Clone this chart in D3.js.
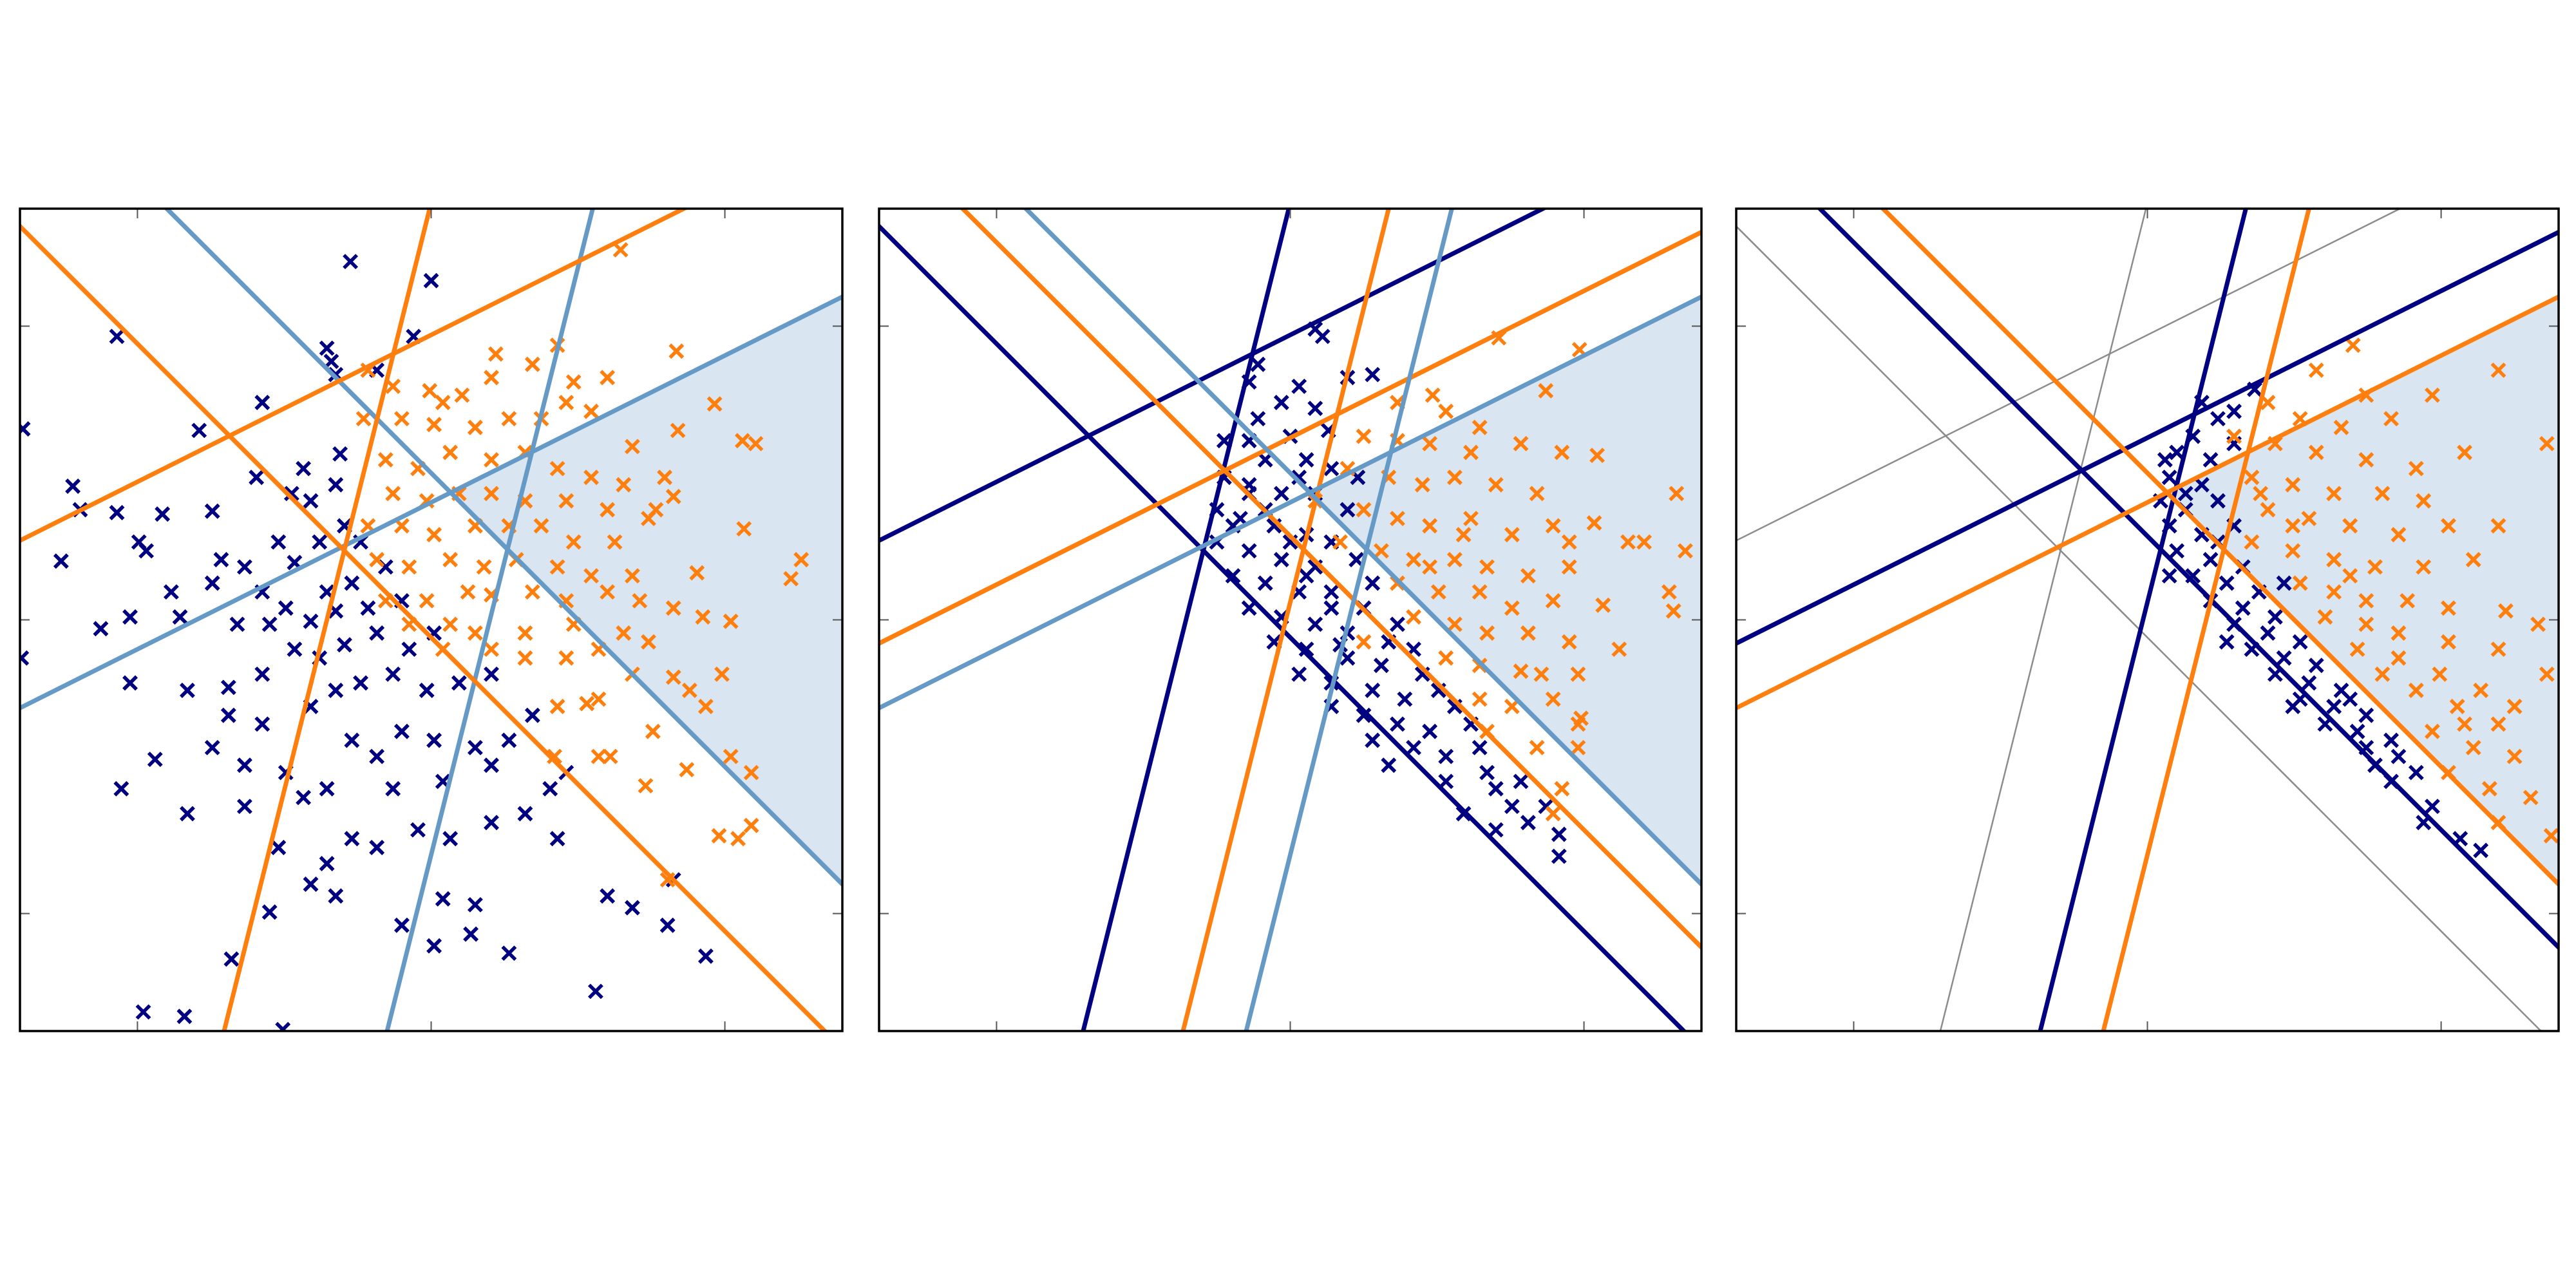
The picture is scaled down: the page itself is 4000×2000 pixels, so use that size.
<!DOCTYPE html>
<html><head><meta charset="utf-8">
<script src="https://cdn.jsdelivr.net/npm/d3@7"></script>
<style>body{margin:0;background:#fff}</style></head>
<body><svg id="c" width="4000" height="2000"></svg>
<script>
const domain=[-2.8,2.8], ticks=[-2,0,2];
const NAVY="#000080", ORANGE="#ff7f0e", BLUE="#659ac6", GRAY="#8c8c8c", SHADE="#d9e6f2";
// lines as [a,b,c] meaning a*x + b*y = c
const linesA=[[1,1,1.0],[-0.5,1,0.8],[1,-0.25,0.4]];
const linesB=[[1,1,-0.12],[-0.5,1,1.94],[1,-0.25,-0.71]];
const linesC=[[1,1,0.57],[-0.5,1,1.24],[1,-0.25,-0.03]];
const p1Navy=[[-0.55,2.44],[0,2.31],[-2.14,1.93],[-0.71,1.85],[-0.68,1.76],[-0.65,1.67],[-0.12,1.93],[-0.37,1.70],[-1.15,1.48],[-1.58,1.29],[-2.78,1.30],[-0.62,1.13],[-1.19,0.97],[-0.87,1.03],[-2.44,0.91],[-2.39,0.75],[-2.14,0.73],[-1.83,0.72],[-1.49,0.74],[-0.95,0.86],[-0.82,0.81],[-0.65,0.92],[-2.52,0.40],[-1.99,0.53],[-1.94,0.47],[-1.43,0.41],[-1.27,0.36],[-1.04,0.53],[-0.93,0.39],[-0.76,0.53],[-0.59,0.64],[-0.48,0.53],[-1.77,0.19],[-1.49,0.25],[-1.15,0.19],[-0.99,0.08],[-0.71,0.19],[-0.54,0.25],[-0.31,0.36],[-2.25,-0.06],[-2.05,0.02],[-1.71,0.02],[-1.32,-0.03],[-1.10,-0.03],[-0.82,-0.01],[-0.65,0.06],[-0.43,0.08],[-0.20,0.13],[-2.79,-0.26],[-2.05,-0.43],[-1.66,-0.48],[-1.38,-0.46],[-1.15,-0.37],[-0.93,-0.20],[-0.76,-0.26],[-0.59,-0.17],[-0.37,-0.09],[-0.15,-0.20],[0.02,-0.09],[-1.38,-0.65],[-1.15,-0.71],[-0.82,-0.59],[-0.65,-0.48],[-0.48,-0.43],[-0.26,-0.37],[-0.03,-0.48],[0.19,-0.43],[0.41,-0.37],[-1.88,-0.95],[-1.49,-0.87],[-1.27,-0.99],[-0.99,-1.04],[-0.54,-0.82],[-0.37,-0.93],[-0.20,-0.76],[0.02,-0.82],[0.30,-0.87],[0.53,-0.82],[0.69,-0.65],[-2.11,-1.15],[-1.66,-1.32],[-1.27,-1.27],[-0.87,-1.21],[-0.71,-1.15],[-0.26,-1.15],[0.08,-1.10],[0.41,-0.99],[0.81,-1.15],[0.92,-1.04],[-1.04,-1.55],[-0.71,-1.66],[-0.54,-1.49],[-0.37,-1.55],[-0.09,-1.43],[0.13,-1.49],[0.41,-1.38],[0.64,-1.32],[0.86,-1.49],[-0.82,-1.80],[-0.65,-1.88],[-1.10,-1.99],[-0.20,-2.08],[0.08,-1.90],[0.30,-1.94],[1.20,-1.88],[1.37,-1.96],[1.61,-2.08],[0.02,-2.22],[0.27,-2.14],[0.53,-2.27],[1.87,-2.29],[-1.36,-2.31],[-1.96,-2.67],[-1.68,-2.70],[-1.01,-2.79],[1.12,-2.53],[1.65,-1.77]];
const p1Orange=[[1.29,2.52],[1.67,1.83],[0.44,1.81],[0.86,1.87],[0.69,1.74],[-0.01,1.56],[0.08,1.48],[0.21,1.53],[0.41,1.65],[0.97,1.62],[1.20,1.65],[-0.26,1.59],[-0.43,1.70],[1.93,1.47],[2.12,1.22],[2.21,1.20],[1.68,1.29],[-0.46,1.37],[-0.20,1.37],[0.02,1.33],[0.30,1.31],[0.53,1.37],[0.75,1.37],[0.92,1.48],[1.09,1.42],[1.37,1.18],[-0.31,1.09],[-0.09,1.03],[0.13,1.14],[0.41,1.09],[0.64,1.14],[0.86,1.03],[1.09,0.97],[1.31,0.92],[1.59,0.97],[1.65,0.84],[-0.26,0.86],[-0.03,0.81],[0.19,0.86],[0.41,0.86],[0.64,0.81],[0.92,0.81],[1.20,0.75],[1.48,0.69],[2.13,0.62],[-0.43,0.64],[-0.20,0.64],[0.02,0.58],[0.30,0.64],[0.53,0.64],[0.75,0.64],[0.97,0.53],[1.25,0.53],[1.53,0.75],[2.52,0.41],[2.45,0.28],[-0.37,0.41],[-0.15,0.36],[0.13,0.41],[0.36,0.36],[0.58,0.41],[0.86,0.36],[1.09,0.30],[1.37,0.30],[1.81,0.32],[-0.31,0.13],[-0.03,0.13],[0.25,0.19],[0.41,0.17],[0.69,0.19],[0.92,0.13],[1.20,0.19],[1.42,0.13],[1.65,0.08],[2.04,-0.01],[1.85,0.02],[-0.15,-0.03],[0.13,-0.03],[0.30,-0.09],[0.64,-0.09],[0.97,-0.03],[1.31,-0.09],[1.48,-0.15],[0.08,-0.20],[0.41,-0.20],[0.64,-0.26],[0.92,-0.26],[1.14,-0.20],[1.37,-0.37],[1.65,-0.39],[1.76,-0.48],[1.98,-0.37],[1.87,-0.59],[1.06,-0.57],[1.14,-0.54],[0.86,-0.59],[2.04,-0.93],[2.18,-1.04],[1.74,-1.02],[1.51,-0.76],[0.84,-0.93],[1.14,-0.93],[1.22,-0.93],[1.46,-1.13],[1.96,-1.47],[2.09,-1.49],[2.18,-1.40],[1.61,-1.77]];
const p2Navy=[[0.17,1.98],[0.22,1.93],[-0.22,1.74],[-0.28,1.62],[0.06,1.59],[-0.06,1.48],[0.17,1.44],[-0.22,1.37],[-0.28,1.22],[0,1.25],[-0.45,1.22],[0.39,1.65],[0.56,1.67],[-0.17,1.09],[0.11,1.09],[0.28,1.03],[-0.45,0.97],[-0.28,0.92],[-0.06,0.86],[0.17,0.86],[-0.50,0.75],[-0.34,0.69],[-0.11,0.64],[0.11,0.58],[0.39,0.75],[-0.50,0.53],[-0.28,0.47],[-0.06,0.41],[0.17,0.36],[0.45,0.41],[-0.39,0.30],[-0.17,0.25],[0.06,0.19],[0.28,0.19],[0.56,0.25],[-0.28,0.08],[-0.06,0.02],[0.17,-0.03],[0.39,-0.09],[0.73,-0.03],[-0.11,-0.15],[0.11,-0.20],[0.39,-0.26],[0.62,-0.31],[0.84,-0.20],[0.06,-0.37],[0.28,-0.43],[0.56,-0.48],[0.78,-0.54],[1.01,-0.48],[0.28,-0.59],[0.50,-0.65],[0.73,-0.71],[0.95,-0.76],[1.23,-0.71],[0.56,-0.82],[0.84,-0.87],[1.06,-0.93],[0.67,-0.99],[1.06,-1.10],[1.34,-1.04],[1.40,-1.15],[1.51,-1.27],[1.18,-1.32],[1.40,-1.43],[1.62,-1.38],[1.83,-1.46],[1.83,-1.61],[0.34,-0.17],[-0.39,0.64],[-0.17,0.75],[0,0.53],[0.28,0.53],[0.50,0.08],[0.67,-0.15],[0.90,-0.37],[1.12,-0.59],[1.29,-0.87],[1.57,-1.10],[1.74,-1.27],[0.11,0.30],[0.28,0.08],[-0.28,0.86],[0.06,0.97],[0.26,1.29],[0.46,0.97]];
const p2Orange=[[1.42,1.92],[1.97,1.84],[1.74,1.56],[0.97,1.53],[0.73,1.48],[1.06,1.42],[1.29,1.31],[0.50,1.25],[0.73,1.22],[0.95,1.20],[1.23,1.14],[1.57,1.20],[2.09,1.12],[1.85,1.14],[0.39,1.03],[0.67,0.97],[0.90,0.92],[1.12,0.97],[1.40,0.92],[1.68,0.86],[2.63,0.86],[0.17,0.81],[0.50,0.75],[0.73,0.69],[0.95,0.64],[1.23,0.69],[1.51,0.58],[1.79,0.64],[2.07,0.66],[2.30,0.53],[0.34,0.53],[0.62,0.47],[0.84,0.41],[1.12,0.41],[1.34,0.36],[1.62,0.30],[1.90,0.36],[0.73,0.25],[1.01,0.19],[1.29,0.19],[1.51,0.08],[1.79,0.13],[2.13,0.10],[2.58,0.19],[2.61,0.06],[0.84,0.02],[1.12,-0.03],[1.34,-0.09],[1.62,-0.09],[1.90,-0.15],[2.24,-0.20],[0.50,-0.15],[1.06,-0.26],[1.29,-0.31],[1.57,-0.35],[1.96,-0.37],[1.29,-0.54],[1.51,-0.59],[1.79,-0.54],[1.96,-0.71],[1.34,-0.76],[1.68,-0.87],[1.96,-0.87],[1.85,-1.15],[1.79,-1.32],[1.98,-0.67],[0.95,0.36],[1.18,0.58],[2.41,0.53],[2.69,0.47],[1.90,0.53],[1.71,-0.37]];
const p3Navy=[[0.37,1.48],[0.48,1.37],[0.31,1.25],[0.20,1.14],[0.43,1.09],[0.59,1.20],[0.15,0.97],[0.37,0.92],[0.09,0.81],[0.26,0.75],[0.48,0.81],[0.15,0.64],[0.37,0.58],[0.59,0.64],[0.20,0.47],[0.43,0.41],[0.65,0.36],[0.31,0.30],[0.54,0.25],[0.76,0.19],[0.43,0.13],[0.65,0.08],[0.87,0.02],[0.59,-0.03],[0.82,-0.09],[1.04,-0.15],[0.71,-0.20],[0.93,-0.26],[1.15,-0.31],[0.87,-0.37],[1.10,-0.43],[1.32,-0.48],[1.04,-0.54],[1.27,-0.59],[1.49,-0.65],[1.21,-0.71],[1.43,-0.76],[1.66,-0.82],[1.49,-0.87],[1.71,-0.93],[1.83,-1.04],[1.66,-1.10],[1.94,-1.27],[1.88,-1.38],[2.13,-1.49],[2.27,-1.57],[1.38,-0.54],[0.26,0.86],[0.15,0.30],[0.54,-0.15],[0.99,-0.59],[1.55,-0.99],[0.48,0.53],[0.93,0.25],[0.12,1.09],[0.73,1.57],[0.59,1.42]];
const p3Orange=[[1.40,1.87],[1.15,1.70],[1.49,1.53],[0.82,1.48],[1.04,1.37],[1.32,1.31],[1.66,1.37],[1.94,1.53],[2.39,1.70],[0.59,1.25],[0.87,1.20],[1.15,1.14],[1.49,1.09],[1.83,1.03],[2.16,1.14],[2.72,1.20],[0.71,0.97],[0.99,0.92],[1.27,0.86],[1.60,0.86],[1.88,0.81],[0.82,0.75],[1.10,0.69],[1.38,0.64],[1.71,0.58],[2.05,0.64],[2.39,0.64],[0.71,0.53],[0.99,0.47],[1.27,0.41],[1.55,0.36],[1.88,0.36],[2.22,0.41],[1.04,0.25],[1.27,0.19],[1.49,0.13],[1.77,0.13],[2.05,0.08],[2.44,0.06],[1.21,0.02],[1.49,-0.03],[1.71,-0.09],[2.05,-0.15],[2.39,-0.20],[2.72,-0.37],[1.43,-0.20],[1.71,-0.26],[1.99,-0.37],[2.27,-0.48],[2.50,-0.59],[1.83,-0.48],[2.11,-0.59],[2.39,-0.71],[1.94,-0.76],[2.22,-0.87],[2.50,-0.93],[2.05,-1.04],[2.33,-1.15],[2.61,-1.21],[2.39,-1.38],[2.75,-1.47],[2.66,-0.03],[2.16,-0.71],[1.60,-0.37],[1.38,0.30],[0.99,0.64],[0.77,0.86]];

const panels=[
 {left:31, points:[[p1Navy,NAVY],[p1Orange,ORANGE]], lines:[[linesA,BLUE,7],[linesB,ORANGE,7]]},
 {left:1365, points:[[p2Navy,NAVY],[p2Orange,ORANGE]], lines:[[linesB,NAVY,7],[linesC,ORANGE,7],[linesA,BLUE,7]]},
 {left:2696, points:[[p3Navy,NAVY],[p3Orange,ORANGE]], lines:[[linesB,GRAY,2.5],[linesC,NAVY,7],[linesA,ORANGE,7]]}
];
const topY=324, size=1277;
const svg=d3.select("#c");
const inter=(l,m)=>{const d=l[0]*m[1]-l[1]*m[0];return [(l[2]*m[1]-l[1]*m[2])/d,(l[0]*m[2]-l[2]*m[0])/d];};
panels.forEach((p,i)=>{
  const x=d3.scaleLinear().domain(domain).range([0,size]);
  const y=d3.scaleLinear().domain(domain).range([size,0]);
  const g=svg.append("g").attr("transform",`translate(${p.left},${topY})`);
  g.append("clipPath").attr("id","cl"+i).append("rect").attr("width",size).attr("height",size);
  const body=g.append("g").attr("clip-path",`url(#cl${i})`);
  const A=linesA[0], B=linesA[1];
  const P=inter(A,B), xr=domain[1];
  const yB=(B[2]-B[0]*xr)/B[1], yA=(A[2]-A[0]*xr)/A[1];
  body.append("path").attr("d",d3.line()([[x(P[0]),y(P[1])],[x(xr),y(yB)],[x(xr),y(yA)]])).attr("fill",SHADE);
  const s=10;
  p.points.forEach(([pts,col])=>{
    body.selectAll(null).data(pts).enter().append("path")
      .attr("d",d=>{const cx=x(d[0]),cy=y(d[1]);return `M${cx-s},${cy-s}L${cx+s},${cy+s}M${cx-s},${cy+s}L${cx+s},${cy-s}`;})
      .attr("stroke",col).attr("stroke-width",5.5).attr("fill","none");
  });
  p.lines.forEach(([ls,col,w])=>{
    ls.forEach(l=>{
      let pts;
      if(Math.abs(l[1])>=Math.abs(l[0])) pts=[-10,10].map(v=>[v,(l[2]-l[0]*v)/l[1]]);
      else pts=[-10,10].map(v=>[(l[2]-l[1]*v)/l[0],v]);
      body.append("line").attr("x1",x(pts[0][0])).attr("y1",y(pts[0][1])).attr("x2",x(pts[1][0])).attr("y2",y(pts[1][1]))
        .attr("stroke",col).attr("stroke-width",w);
    });
  });
  const tl=15, tc="#555";
  ticks.forEach(t=>{
    g.append("line").attr("x1",x(t)).attr("x2",x(t)).attr("y1",size).attr("y2",size-tl).attr("stroke",tc).attr("stroke-width",2);
    g.append("line").attr("x1",x(t)).attr("x2",x(t)).attr("y1",0).attr("y2",tl).attr("stroke",tc).attr("stroke-width",2);
    g.append("line").attr("y1",y(t)).attr("y2",y(t)).attr("x1",0).attr("x2",tl).attr("stroke",tc).attr("stroke-width",2);
    g.append("line").attr("y1",y(t)).attr("y2",y(t)).attr("x1",size).attr("x2",size-tl).attr("stroke",tc).attr("stroke-width",2);
  });
  g.append("rect").attr("width",size).attr("height",size).attr("fill","none").attr("stroke","#000").attr("stroke-width",3.5);
});
</script></body></html>
